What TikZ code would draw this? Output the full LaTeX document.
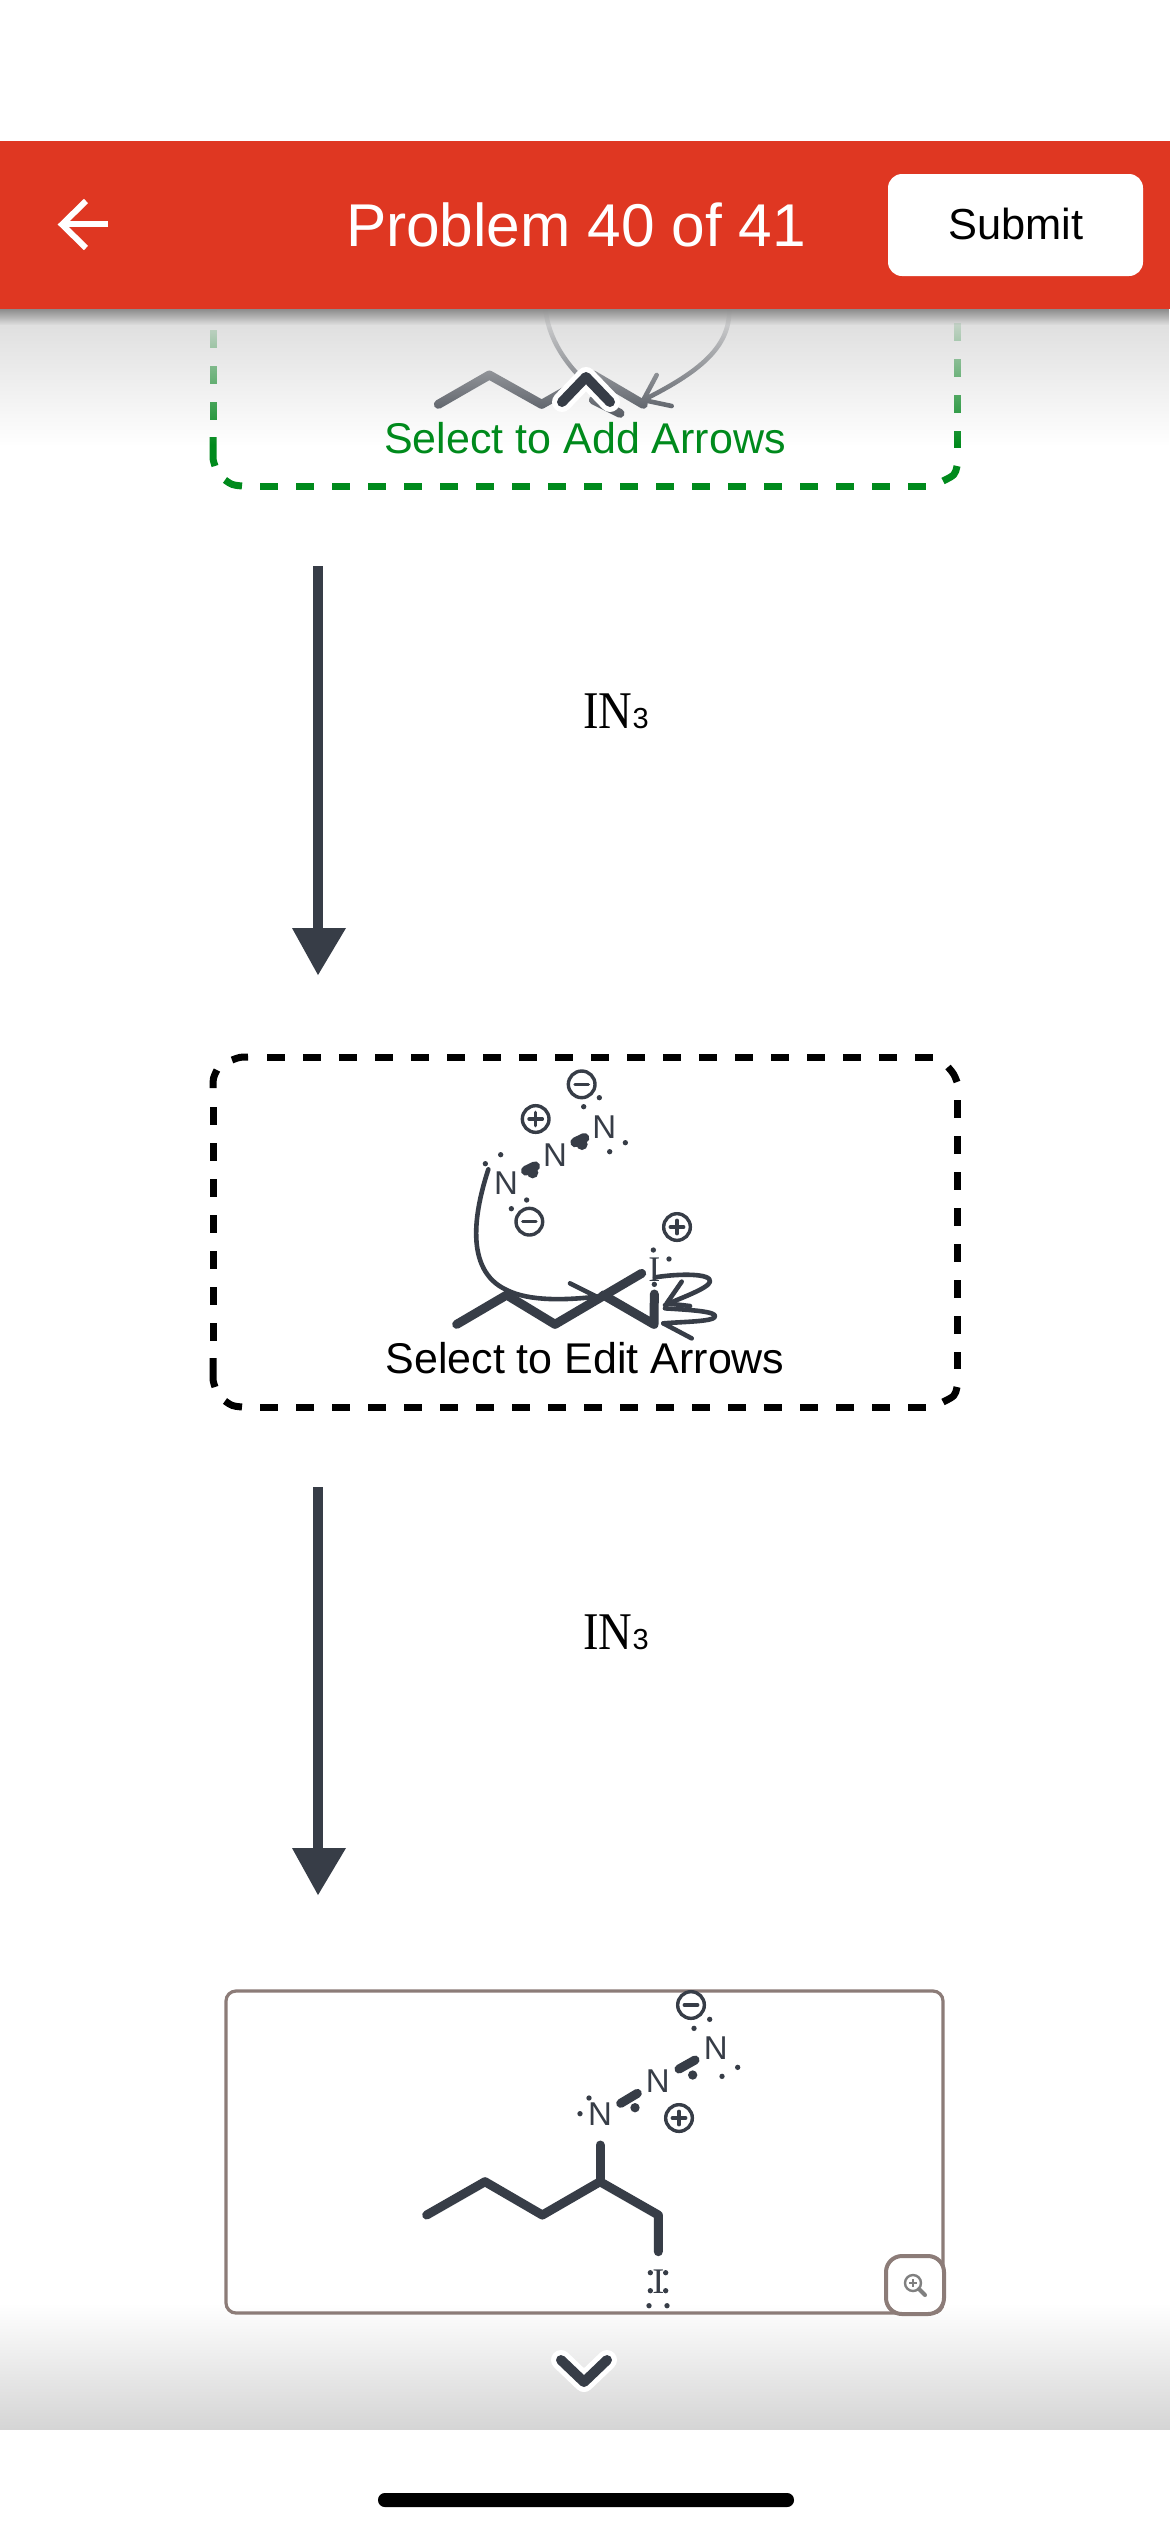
\documentclass[tikz,border=0pt]{standalone}
\usepackage{fontspec}
\setmainfont{Liberation Sans}
\newfontfamily\serifface{Liberation Serif}
\usetikzlibrary{fadings}
\definecolor{hdr}{HTML}{DF3722}
\definecolor{ink}{HTML}{373D47}
\definecolor{okgreen}{HTML}{008A1C}
\definecolor{frameb}{HTML}{8C7C78}
\definecolor{veil}{HTML}{DCDCDC}
\definecolor{lowveil}{HTML}{D5D5D5}
\definecolor{lens}{HTML}{808080}
\tikzfading[name=veilfade, top color=transparent!0, bottom color=transparent!100]
\tikzset{
  bond/.style={ink, line width=4.5pt, line cap=round, line join=round},
  thinarrow/.style={ink, line width=2.3pt, line cap=round, line join=round},
  dashside/.style={line width=3.5pt, dash pattern=on 9pt off 9pt},
  solidside/.style={line width=3.5pt},
  atom/.style={ink, font=\fontsize{16.5}{16}\selectfont, inner sep=0pt},
  iatom/.style={ink, font=\fontsize{18}{18}\selectfont\serifface, inner sep=0pt},
  molmap/.style={x=0.16667pt, y=-0.16667pt},
  chev/.style={line cap=round, line join=round},
  shaft/.style={ink, line width=5pt},
  lbl/.style={anchor=base, inner sep=0pt, font=\fontsize{21.5}{24}\selectfont},
  rxn/.style={anchor=base west, inner sep=0pt, font=\fontsize{14.5}{16}\selectfont}
}
\newcommand{\edot}[2]{\fill[ink] (#1,#2) circle (8);}
\newcommand{\chargering}[2]{\draw[ink, line width=1.7pt] (#1,#2) circle (40);}
\newcommand{\chargeminus}[2]{\chargering{#1}{#2}\draw[ink, line width=1.7pt, line cap=round] (#1-20,#2) -- (#1+20,#2);}
\newcommand{\chargeplus}[2]{\chargeminus{#1}{#2}\draw[ink, line width=1.7pt, line cap=round] (#1,#2-20) -- (#1,#2+20);}
\newcommand{\azideblob}[2]{\draw[ink, line width=5pt, line cap=round] (#1-15,#2+7) -- (#1+12,#2-6);\fill[ink] (#1+5,#2+13) circle (17);}
% dashed frame, drawn side by side so that the dashes fall as in the reference
\newcommand{\frametop}[1]{%
  \draw[#1, dashside] (267,1057) -- (933,1057);
  \draw[#1, solidside] (213,1088) .. controls (213,1078) .. (217,1070);
  \draw[#1, solidside] (232,1060) .. controls (240,1057) .. (248,1057);
  \draw[#1, solidside] (948,1067) .. controls (954,1074) .. (957,1082);
}
\newcommand{\framelow}[1]{%
  \draw[#1, dashside] (957,1100) -- (957,1369);
  \draw[#1, solidside] (957,1387) .. controls (955,1396) .. (943,1402);
  \draw[#1, dashside] (260,1407) -- (926,1407);
  \draw[#1, solidside] (242,1407) .. controls (232,1406) .. (225,1401);
  \draw[#1, dashside] (213,1107) -- (213,1341);
  \draw[#1, solidside] (213,1358) -- (213,1375) .. controls (213,1381) .. (215,1387);
}
\begin{document}
\begin{tikzpicture}[x=0.5pt, y=-0.5pt]
\useasboundingbox (0,0) rectangle (1170,2532);
\fill[white] (0,0) rectangle (1170,2532);

% bottom fade
\shade[top color=white, bottom color=lowveil] (0,2303) rectangle (1170,2429);

% first box contents (under the veil)
\begin{scope}[shift={(420,300)}, molmap]
  \draw[bond] (55,313) -- (208,225) -- (365,313) -- (520,225) -- (670,313);
  \draw[bond] (520,300) -- (600,340);
  \draw[thinarrow] (375,0) .. controls (375,100) and (430,185) .. (500,250);
  \draw[thinarrow] (925,0) .. controls (945,130) and (850,210) .. (670,300);
  \draw[thinarrow] (710,225) -- (670,300) -- (755,318);
\end{scope}
\begin{scope}[shift={(0,-921)}]
  \framelow{okgreen}
\end{scope}

% veil under the header
\fill[veil, path fading=veilfade] (0,309) rectangle (1170,445);
\fill[black!45, path fading=veilfade] (0,309) rectangle (1170,325);

% chevron over the veil
\draw[white, line width=10pt, chev] (562,402) -- (586,377) -- (610,402);
\draw[ink, line width=5pt, chev] (562,402) -- (586,377) -- (610,402);
\node[lbl, okgreen] (addlabel) at (585,453) {Select to Add Arrows};

% header
\fill[hdr] (0,141) rectangle (1170,309);
\node[anchor=base, inner sep=0pt, white, font=\fontsize{30.2}{32}\selectfont] (title) at (576,246) {Problem 40 of 41};
\fill[white, rounded corners=7pt] (888,174) rectangle (1143,276);
\node[anchor=base, inner sep=0pt, black, font=\fontsize{21.7}{24}\selectfont] (submit) at (1016,239) {Submit};
\draw[white, line width=3pt] (108,224) -- (63,224);
\draw[white, line width=3pt, line join=miter] (86,201) -- (62,224.5) -- (86,248);

% reaction arrow 1
\coordinate (a1s) at (318,566);
\coordinate (a1h) at (318,928);
\coordinate (a1t) at (318,975);
\draw[shaft] (a1s) -- (a1h);
\fill[ink] (292,928) -- (346,928) -- (a1t) -- cycle;
\node[rxn] (rx1) at (583,728) {{\serifface\fontsize{26.5}{30}\selectfont\scalebox{0.88}[1]{IN}}3};

% box 2
\frametop{black}
\framelow{black}
\begin{scope}[shift={(400,1040)}, molmap]
  \node[atom] (n1) at (318,430) {N};
  \node[atom] (n2) at (465,345) {N};
  \node[atom] (n3) at (613,260) {N};
  \node[iatom] (i1) at (763,688) {I};
  \azideblob{393}{385}
  \azideblob{541}{300}
  \edot{256}{371}\edot{302}{344}\edot{334}{506}\edot{380}{480}
  \edot{551}{200}\edot{598}{173}\edot{629}{335}\edot{676}{308}
  \edot{760}{630}\edot{807}{657}\edot{763}{733}
  \chargeplus{407}{237}
  \chargeminus{388}{545}
  \chargeminus{545}{133}
  \chargeplus{831}{561}
  \draw[bond] (170,853) -- (320,765) -- (465,853) -- (725,700);
  \draw[bond] (610,765) -- (762,853) -- (763,762);
  \draw[thinarrow] (265,388) .. controls (225,510) and (190,690) .. (320,750) .. controls (390,785) and (500,780) .. (590,770);
  \draw[thinarrow] (510,730) -- (590,770);
  \draw[thinarrow] (765,712) .. controls (840,700) and (935,700) .. (930,725) .. controls (925,745) and (840,775) .. (795,795);
  \draw[thinarrow] (845,725) -- (800,790) -- (870,798);
  \draw[thinarrow] (795,805) .. controls (880,810) and (950,815) .. (945,830) .. controls (940,845) and (850,845) .. (790,850);
  \draw[thinarrow] (790,850) -- (875,895);
\end{scope}
\node[lbl, black] (editlabel) at (585,1373) {Select to Edit Arrows};

% reaction arrow 2
\coordinate (a2s) at (318,1487);
\coordinate (a2h) at (318,1848);
\coordinate (a2t) at (318,1895);
\draw[shaft] (a2s) -- (a2h);
\fill[ink] (292,1848) -- (346,1848) -- (a2t) -- cycle;
\node[rxn] (rx2) at (583,1649) {{\serifface\fontsize{26.5}{30}\selectfont\scalebox{0.88}[1]{IN}}3};

% product box
\draw[frameb, line width=1.6pt, rounded corners=5pt] (226,1991) rectangle (943,2313);
\begin{scope}[shift={(380,1970)}, molmap]
  \node[atom] (p1) at (660,433) {N};
  \node[atom] (p2) at (833,333) {N};
  \node[atom] (p3) at (1007,233) {N};
  \node[iatom] (i2) at (835,935) {I};
  \draw[bond] (722,400) -- (772,370);
  \fill[ink] (765,413) circle (14);
  \draw[bond] (897,297) -- (945,270);
  \fill[ink] (938,315) circle (14);
  \edot{600}{431}\edot{627}{384}\edot{942}{175}\edot{989}{148}
  \edot{1026}{319}\edot{1073}{292}
  \edot{811}{908}\edot{857}{908}\edot{811}{962}\edot{857}{962}
  \edot{807}{1007}\edot{861}{1007}
  \chargeminus{933}{105}
  \chargeplus{897}{444}
  \draw[bond] (140,735) -- (315,635) -- (487,735) -- (660,635) -- (835,735) -- (835,845);
  \draw[bond] (660,635) -- (660,525);
\end{scope}

% zoom button
\draw[frameb, line width=2pt, fill=white, rounded corners=8pt] (886,2256) rectangle (944,2314);
\draw[lens, line width=1.2pt] (913,2283) circle (8);
\draw[lens, line width=1pt] (909,2283) -- (917,2283) (913,2279) -- (913,2287);
\draw[lens, line width=2pt, line cap=round] (919,2289) -- (925,2295);

% lower chevron
\draw[white, line width=10pt, chev] (561,2360) -- (584,2382) -- (607,2360);
\draw[ink, line width=5pt, chev] (561,2360) -- (584,2382) -- (607,2360);

% home bar
\fill[black, rounded corners=3.4pt] (378,2493) rectangle (794,2507);
\end{tikzpicture}
\end{document}
